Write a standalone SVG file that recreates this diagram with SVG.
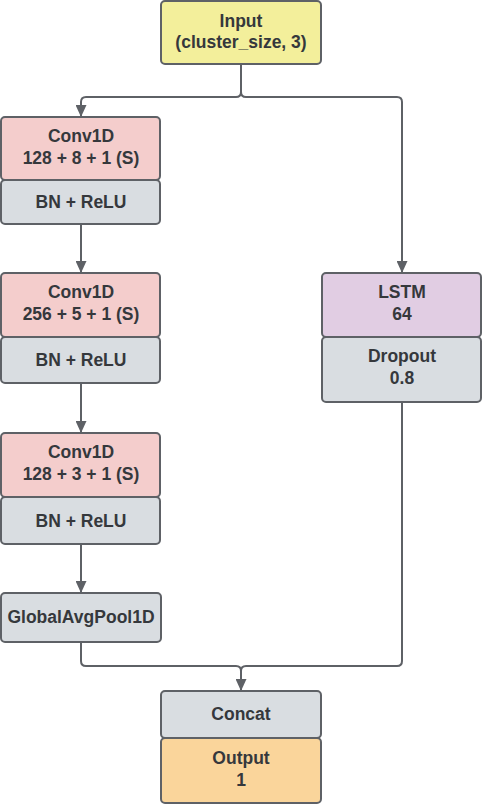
<svg xmlns="http://www.w3.org/2000/svg" width="482" height="804" viewBox="0 0 482 804">
<defs>
<style>
.b{stroke:#5e6166;stroke-width:2}
.y{fill:#f3ef9b}.p{fill:#f4cdcc}.g{fill:#d9dde1}.v{fill:#e1cde3}.o{fill:#fad59b}
text{font-family:"Liberation Sans",Arial,sans-serif;font-weight:bold;font-size:17.5px;fill:#35383c;text-anchor:middle}
.c{fill:none;stroke:#5e6166;stroke-width:2}
</style>
<marker id="a" viewBox="0 0 12 11" refX="11" refY="5.5" markerWidth="12" markerHeight="11" orient="auto" markerUnits="userSpaceOnUse">
<path d="M0,0L12,5.5L0,11z" fill="#5e6166"/>
</marker>
</defs>
<g id="connectors">
<path class="c" d="M241,64V92Q241,97 236,97H86Q81,97 81,102V116" marker-end="url(#a)"/>
<path class="c" d="M241,92Q241,97 246,97H397Q402,97 402,102V272" marker-end="url(#a)"/>
<path class="c" d="M81,224V272" marker-end="url(#a)"/>
<path class="c" d="M81,383V432" marker-end="url(#a)"/>
<path class="c" d="M81,544V592" marker-end="url(#a)"/>
<path class="c" d="M81,642V661Q81,666 86,666H236Q241,666 241,671V690" marker-end="url(#a)"/>
<path class="c" d="M402,402V661Q402,666 397,666H246Q241,666 241,671"/>
</g>
<g id="input"><rect class="b y" x="161" y="1" width="160" height="63" rx="4"/><text x="241" y="27">Input</text><text x="241" y="48">(cluster_size, 3)</text></g>
<g id="conv1"><rect class="b p" x="1" y="117" width="159" height="63" rx="4"/><text x="81" y="142">Conv1D</text><text x="81" y="164">128 + 8 + 1 (S)</text></g>
<g id="bn1"><rect class="b g" x="1" y="180" width="159" height="44" rx="4"/><text x="81" y="208">BN + ReLU</text></g>
<g id="conv2"><rect class="b p" x="1" y="273" width="159" height="64" rx="4"/><text x="81" y="298">Conv1D</text><text x="81" y="320">256 + 5 + 1 (S)</text></g>
<g id="bn2"><rect class="b g" x="1" y="337" width="159" height="46" rx="4"/><text x="81" y="366">BN + ReLU</text></g>
<g id="conv3"><rect class="b p" x="1" y="433" width="159" height="64" rx="4"/><text x="81" y="458">Conv1D</text><text x="81" y="480">128 + 3 + 1 (S)</text></g>
<g id="bn3"><rect class="b g" x="1" y="497" width="159" height="47" rx="4"/><text x="81" y="527">BN + ReLU</text></g>
<g id="gap"><rect class="b g" x="1" y="593" width="160" height="49" rx="4"/><text x="81" y="623">GlobalAvgPool1D</text></g>
<g id="lstm"><rect class="b v" x="322" y="273" width="159" height="64" rx="4"/><text x="402" y="298">LSTM</text><text x="402" y="320">64</text></g>
<g id="dropout"><rect class="b g" x="322" y="337" width="159" height="65" rx="4"/><text x="402" y="362">Dropout</text><text x="402" y="384">0.8</text></g>
<g id="concat"><rect class="b g" x="161" y="691" width="160" height="47" rx="4"/><text x="241" y="720">Concat</text></g>
<g id="output"><rect class="b o" x="161" y="738" width="160" height="65" rx="4"/><text x="241" y="764">Output</text><text x="241" y="786">1</text></g>
</svg>
